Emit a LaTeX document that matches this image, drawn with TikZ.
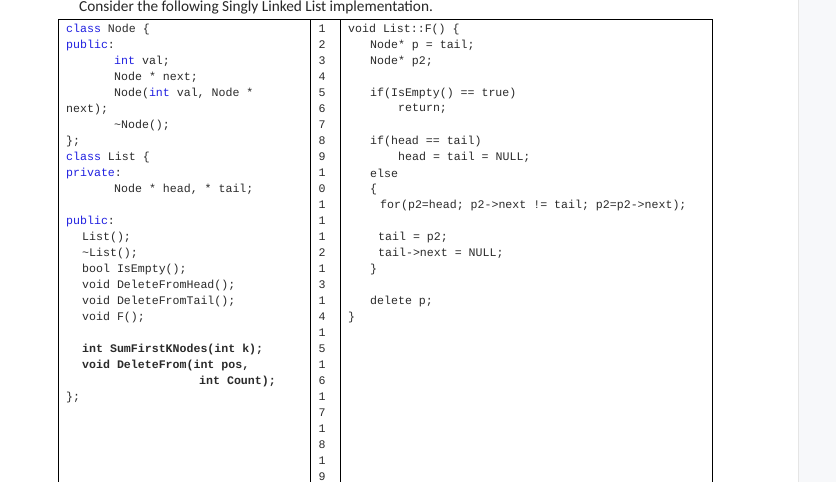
\documentclass[tikz,border=0pt]{standalone}
\usepackage{fontspec}
\setmainfont{Carlito}
\setmonofont{Liberation Mono}
\definecolor{kw}{HTML}{1F1FE0}
\definecolor{txt}{HTML}{2A2A2A}
\definecolor{panel}{HTML}{F7F8FA}
\tikzset{code/.style={anchor=west,inner sep=0pt,text=txt,font=\ttfamily\fontsize{11.6}{12}\selectfont},
 num/.style={anchor=center,inner sep=0pt,text=txt,font=\ttfamily\fontsize{11.6}{12}\selectfont},
 rule/.style={line width=1pt,black}}
\newcommand\cl[4]{\node[code] (#1) at (#2,{29+16*(#3-1)}) {#4};}
\newcommand\kw[1]{\textcolor{kw}{#1}}
\begin{document}
\begin{tikzpicture}[x=1pt,y=-1pt]
\useasboundingbox (0,0) rectangle (836,482);
\fill[panel] (798,0) rectangle (836,482);
\draw[color=black!10] (798,0) -- (798,482);
\node[anchor=west,inner sep=0pt,font=\fontsize{15.3}{16}\selectfont,text=black!85] (title) at (79,8) {Consider the following Singly Linked List implementation.};
\draw[rule] (58,482) -- (58,19) -- (712,19) -- (712,482);
\draw[rule] (310,19) -- (310,482);
\draw[rule] (340,19) -- (340,482);
% left column
\cl{a1}{66}{1}{\kw{class} Node \{}
\cl{a2}{66}{2}{\kw{public}:}
\cl{a3}{114}{3}{\kw{int} val;}
\cl{a4}{114}{4}{Node * next;}
\cl{a5}{114}{5}{Node(\kw{int} val, Node *}
\cl{a6}{66}{6}{next);}
\cl{a7}{114}{7}{\textasciitilde Node();}
\cl{a8}{66}{8}{\};}
\cl{a9}{66}{9}{\kw{class} List \{}
\cl{a10}{66}{10}{\kw{private}:}
\cl{a11}{114}{11}{Node * head, * tail;}
\cl{a13}{66}{13}{\kw{public}:}
\cl{a14}{82}{14}{List();}
\cl{a15}{82}{15}{\textasciitilde List();}
\cl{a16}{82}{16}{bool IsEmpty();}
\cl{a17}{82}{17}{void DeleteFromHead();}
\cl{a18}{82}{18}{void DeleteFromTail();}
\cl{a19}{82}{19}{void F();}
\cl{a21}{82}{21}{\textbf{int SumFirstKNodes(int k);}}
\cl{a22}{82}{22}{\textbf{void DeleteFrom(int pos,}}
\cl{a23}{199}{23}{\textbf{int Count);}}
\cl{a24}{66}{24}{\};}
% line numbers
\foreach \t [count=\i] in {1,2,3,4,5,6,7,8,9,1,0,1,1,1,2,1,3,1,4,1,5,1,6,1,7,1,8,1,9}
  \node[num] (n\i) at (322,{29+16*(\i-1)}) {\t};
% right column
\cl{b1}{348}{1}{void List::F() \{}
\cl{b2}{370}{2}{Node* p = tail;}
\cl{b3}{370}{3}{Node* p2;}
\cl{b5}{370}{5}{if(IsEmpty() == true)}
\cl{b6}{398}{6}{return;}
\cl{b8}{370}{8}{if(head == tail)}
\cl{b9}{398}{9}{head = tail = NULL;}
\cl{b10}{370}{10}{else}
\cl{b11}{370}{11}{\{}
\cl{b12}{380}{12}{for(p2=head; p2->next != tail; p2=p2->next);}
\cl{b14}{378}{14}{tail = p2;}
\cl{b15}{378}{15}{tail->next = NULL;}
\cl{b16}{370}{16}{\}}
\cl{b18}{370}{18}{delete p;}
\cl{b19}{348}{19}{\}}
\end{tikzpicture}
\end{document}
